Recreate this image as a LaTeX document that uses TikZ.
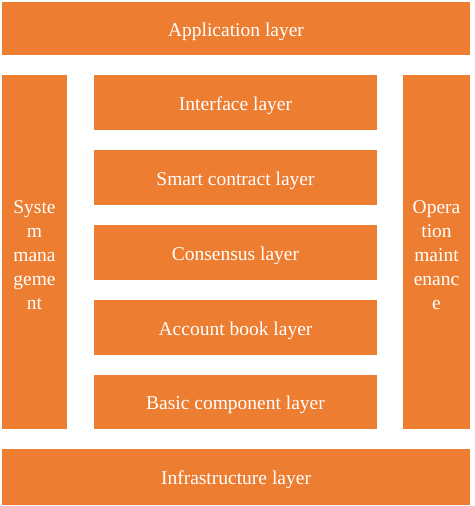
\documentclass[tikz,border=0pt]{standalone}
\usepackage{fontspec}
\setmainfont{Liberation Serif}
\usepackage{tikz}

\definecolor{layerorange}{HTML}{ED7D31}
\tikzset{
  layer/.style={fill=layerorange,draw=none,text=white,inner sep=0pt,
    font=\fontsize{19.5}{24}\selectfont,align=center,
    text height=19.5pt,text depth=4.2pt},
  sidebar/.style={layer,minimum height=354pt,text height=115.3pt,text depth=0pt},
}

\begin{document}
\begin{tikzpicture}[x=1pt,y=-1pt]
	\useasboundingbox (0,0) rectangle (474,506);
\node[layer,minimum width=468pt,minimum height=53pt] (app) at (236,28.5) {Application layer};
\node[sidebar,minimum width=65pt] (sys) at (34.5,252) {Syste\\m\\mana\\geme\\nt};
\node[sidebar,minimum width=67pt] (ops) at (436.5,252) {Opera\\tion\\maint\\enanc\\e};
\node[layer,minimum width=283pt,minimum height=55pt] (iface) at (235.5,102.5) {Interface layer};
\node[layer,minimum width=283pt,minimum height=55pt] (smart) at (235.5,177.5) {Smart contract layer};
\node[layer,minimum width=283pt,minimum height=55pt] (cons) at (235.5,252.5) {Consensus layer};
\node[layer,minimum width=283pt,minimum height=55pt] (acct) at (235.5,327.5) {Account book layer};
\node[layer,minimum width=283pt,minimum height=54pt] (basic) at (235.5,402) {Basic component layer};
\node[layer,minimum width=468pt,minimum height=56pt] (infra) at (236,477) {Infrastructure layer};

\end{tikzpicture}
\end{document}
